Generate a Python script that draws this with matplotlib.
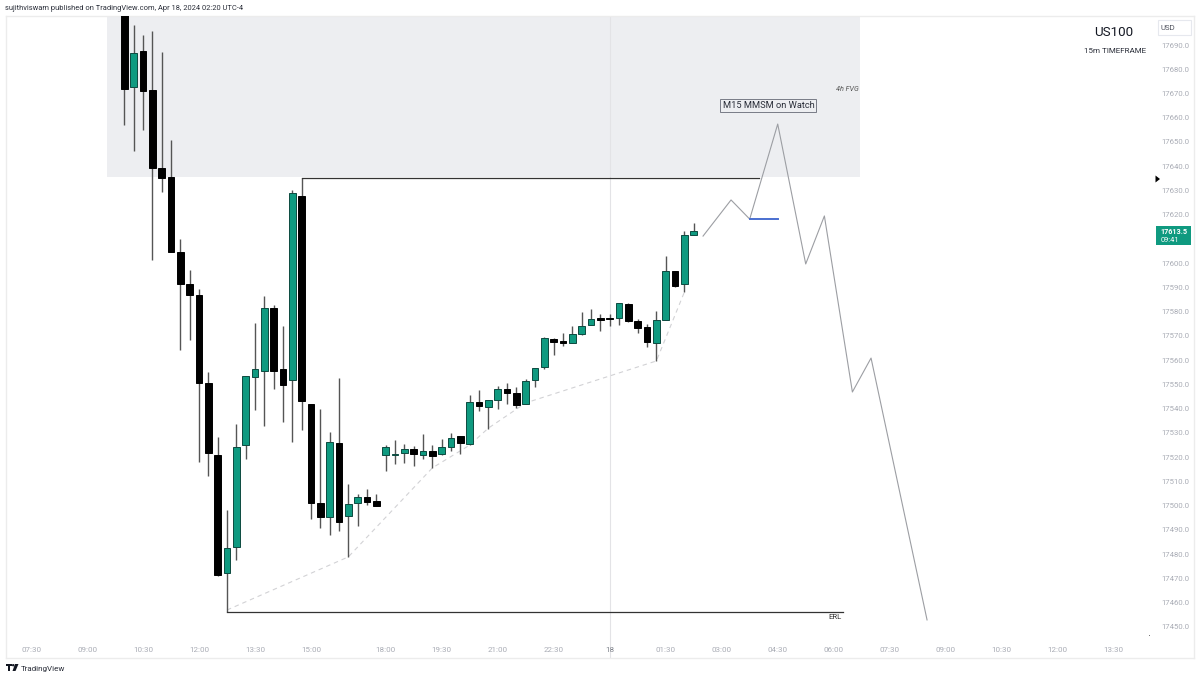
"""US100 15m chart with FVG box and projected path."""

import matplotlib

matplotlib.use("Agg")
import matplotlib.pyplot as plt
import numpy as np
from matplotlib.patches import Circle, Polygon, Rectangle

# bar number on the time axis, 07:30 = bar 0
first_bar = 10
opens = [17720, 17672.7, 17687.5, 17671.4, 17639.3, 17635.6, 17604.6, 17591.4, 17586.9, 17550.6,
         17521.0, 17472.3, 17483.0, 17525.0, 17553.1, 17555.6, 17581.5, 17556.4, 17551.9, 17627.7,
         17542.0, 17501.1, 17495.4, 17525.9, 17495.8, 17501.1, 17503.6, 17502.0,
         17520.9, 17520.9, 17521.8, 17523.4, 17520.9, 17522.6, 17521.3, 17524.2, 17528.8, 17525.5,
         17542.8, 17540.7, 17543.6, 17548.1, 17546.5, 17542.0, 17551.9, 17557.2, 17568.8, 17567.9,
         17567.1, 17570.8, 17574.5, 17577.4, 17577.4, 17577.4, 17583.2, 17576.2, 17573.7, 17567.1,
         17576.6, 17596.8, 17591.4, 17611.6]
highs = [17720, 17698.2, 17694.1, 17695.8, 17687.1, 17650.8, 17610.0, 17597.2, 17589.4, 17555.2,
         17528.3, 17498.2, 17533.7, 17553.5, 17575.4, 17586.5, 17582.8, 17574.1, 17630.2, 17635.2,
         17542.0, 17539.9, 17530.4, 17552.7, 17509.0, 17504.8, 17506.9, 17504.8,
         17525.0, 17527.1, 17525.5, 17524.6, 17529.6, 17525.0, 17527.5, 17530.0, 17528.8, 17545.7,
         17547.7, 17543.6, 17549.4, 17550.6, 17549.0, 17552.3, 17556.8, 17569.6, 17569.2, 17571.2,
         17574.1, 17579.9, 17581.1, 17579.1, 17579.1, 17583.6, 17583.6, 17577.0, 17575.0, 17580.3,
         17603.0, 17596.8, 17613.3, 17616.6]
lows = [17657.0, 17646.3, 17654.9, 17601.3, 17629.4, 17604.6, 17564.2, 17568.4, 17518.0, 17512.3,
        17471.0, 17456.2, 17477.6, 17519.3, 17539.5, 17532.9, 17548.1, 17534.5, 17526.3, 17531.2,
        17494.5, 17490.8, 17488.0, 17489.6, 17478.9, 17491.6, 17500.3, 17499.9,
        17514.3, 17517.2, 17517.6, 17516.4, 17519.3, 17515.6, 17520.9, 17522.6, 17521.3, 17525.0,
        17539.1, 17531.6, 17539.9, 17542.0, 17540.3, 17542.0, 17549.0, 17556.4, 17562.2, 17565.9,
        17567.1, 17570.4, 17574.5, 17572.1, 17574.1, 17574.5, 17575.8, 17571.2, 17565.5, 17559.7,
        17576.6, 17590.2, 17588.1, 17611.6]
closes = [17671.9, 17686.7, 17671.0, 17639.3, 17635.2, 17604.6, 17591.4, 17586.9, 17550.6, 17521.8,
          17471.4, 17482.6, 17524.2, 17553.5, 17556.4, 17581.5, 17555.6, 17549.8, 17629.0, 17543.2,
          17501.1, 17495.4, 17526.3, 17493.3, 17500.7, 17503.6, 17501.5, 17499.9,
          17524.2, 17521.5, 17523.4, 17521.3, 17522.6, 17520.5, 17524.2, 17527.9, 17525.9, 17542.8,
          17541.1, 17543.6, 17548.1, 17546.5, 17541.6, 17551.4, 17556.8, 17569.2, 17567.5, 17567.1,
          17570.8, 17574.1, 17577.0, 17576.6, 17577.2, 17583.6, 17576.2, 17573.3, 17567.5, 17576.6,
          17596.8, 17590.6, 17611.6, 17613.5]

# drawn lines, as (bar, price)
path_bars = [72, 75, 77, 80, 83, 85, 88, 90, 96]
path_prices = [17611.2, 17626.1, 17618.2, 17657.4, 17599.7, 17619.5, 17546.9, 17560.9, 17452.9]
trend_bars = [21, 34, 43, 47, 49, 53, 67, 70]
trend_prices = [17457.0, 17478.9, 17515.6, 17525.0, 17532.0, 17542.4, 17559.7, 17588.1]

price_ticks = [17690, 17680, 17670, 17660, 17650, 17640, 17630, 17620, 17600, 17590, 17580,
               17570, 17560, 17550, 17540, 17530, 17520, 17510, 17500, 17490, 17480, 17470,
               17460, 17450]
time_bars = [0, 6, 12, 18, 24, 30, 38, 44, 50, 56, 62, 68, 74, 80, 86, 92, 98, 104, 110, 116]
time_labels = ["07:30", "09:00", "10:30", "12:00", "13:30", "15:00", "18:00", "19:30", "21:00",
               "22:30", "18", "01:30", "03:00", "04:30", "06:00", "07:30", "09:00", "10:30",
               "12:00", "13:30"]

GREEN = "#0f9a80"
AXIS_GREY = "#a9acb5"
plt.rcParams["font.family"] = "Roboto"

fig = plt.figure(figsize=(12, 6.8), dpi=100)
ax = fig.add_axes([6 / 1200, 1 - 658 / 680, 1188 / 1200, 642 / 680])
ax.set_xlim(-2.68, 124.6)
ax.set_ylim(17437.2, 17701.96)

for side in ax.spines.values():
    side.set_color("#ececec")
    side.set_linewidth(1)

ax.yaxis.tick_right()
ax.set_yticks(price_ticks, [f"{p:.1f}" for p in price_ticks])
ax.set_xticks(time_bars, time_labels)
ax.tick_params(axis="y", length=0, pad=-23.5, labelsize=5.6, labelcolor=AXIS_GREY)
ax.tick_params(axis="x", length=0, pad=-8, labelsize=5.8, labelcolor=AXIS_GREY)
ax.get_xticklabels()[10].set_color("#7f828b")

# FVG zone and session break
ax.add_patch(Rectangle((8.14, 17635.4), 80.66, 100, facecolor="#edeef1", edgecolor="none", zorder=1))
ax.vlines(62, 17437.2, 17701.96, color="#e3e3e6", lw=0.8, zorder=1.5)

# candles
bars = np.arange(first_bar, first_bar + len(opens))
o = np.array(opens, dtype=float)
c = np.array(closes, dtype=float)
is_up = c > o
ax.vlines(bars, lows, highs, color="#555555", lw=1.0, zorder=3)
ax.bar(bars[is_up], (c - o)[is_up], bottom=o[is_up], width=0.7, color=GREEN,
       edgecolor="#0d4a40", linewidth=0.7, zorder=4)
ax.bar(bars[~is_up], (c - o)[~is_up], bottom=o[~is_up], width=0.7, color="black",
       edgecolor="black", linewidth=0.7, zorder=4)

# structure lines
ax.plot([29, 78], [17635.2, 17635.2], color="#333333", lw=0.9, zorder=5)
ax.plot([21, 87], [17456.2, 17456.2], color="#333333", lw=0.9, zorder=5)
ax.plot([77, 80], [17618.2, 17618.2], color="#4a6fd0", lw=1.4, zorder=6)
ax.plot(path_bars, path_prices, color="#9c9ea3", lw=0.8, zorder=5)
ax.plot(trend_bars, trend_prices, color="#d2d2d5", lw=0.8, ls=(0, (4, 3.5)), zorder=2)

ax.text(88.65, 17672.0, "4h FVG", fontsize=5.2, style="italic", color="#555555", ha="right", va="center", zorder=6)
ax.text(86.8, 17454.0, "ERL", fontsize=5.6, color="#333333", ha="right", va="center", zorder=6)
ax.text(79.0, 17665.2, "M15 MMSM on Watch", fontsize=6.7, color="#2a2e39", ha="center", va="center", zorder=6,
        bbox=dict(boxstyle="square,pad=0.22", facecolor="none", edgecolor="#787b86", linewidth=0.7))

# furniture placed in pixels
px = fig.add_axes([0, 0, 1, 1], facecolor="none")
px.set_xlim(0, 1200)
px.set_ylim(680, 0)
px.axis("off")

px.text(5, 8, "sujithviswam published on TradingView.com, Apr 18, 2024 02:20 UTC-4", fontsize=5.4,
        color="#2a2e39", va="center")
px.text(1114, 33, "US100", fontsize=9.6, color="#131722", ha="center", va="center")
px.text(1115, 51, "15m TIMEFRAME", fontsize=5.8, color="#2a2e39", ha="center", va="center")

px.add_patch(Rectangle((1158, 20), 33, 15, facecolor="white", edgecolor="#e6e8ee", lw=0.8))
px.text(1168, 27.5, "USD", fontsize=5.6, color="#50535e", ha="center", va="center")
px.add_patch(Polygon([[1155.5, 175.5], [1155.5, 182.5], [1160, 179]], facecolor="black"))
px.add_patch(Rectangle((1155.5, 226), 35.5, 19, facecolor=GREEN, edgecolor="none"))
px.text(1160.5, 231.5, "17613.5", fontsize=5.2, color="white", fontweight="bold", va="center")
px.text(1160.5, 240, "09:41", fontsize=5.4, color="white", va="center")
px.plot([1149], [634.5], marker="s", ms=0.7, mew=0, color="#777777")

# logo
px.add_patch(Rectangle((6, 664), 6, 2.2, facecolor="#131722"))
px.add_patch(Rectangle((8, 664), 2.4, 7, facecolor="#131722"))
px.add_patch(Circle((13.2, 665.2), 1.2, facecolor="#131722"))
px.add_patch(Polygon([[15, 664], [18.5, 664], [15.5, 671], [12.5, 671]], facecolor="#131722"))
px.text(20.5, 669, "TradingView", fontsize=5.8, color="#2a2e39", va="center")

fig.savefig("out.png", dpi=100)
plt.close(fig)
